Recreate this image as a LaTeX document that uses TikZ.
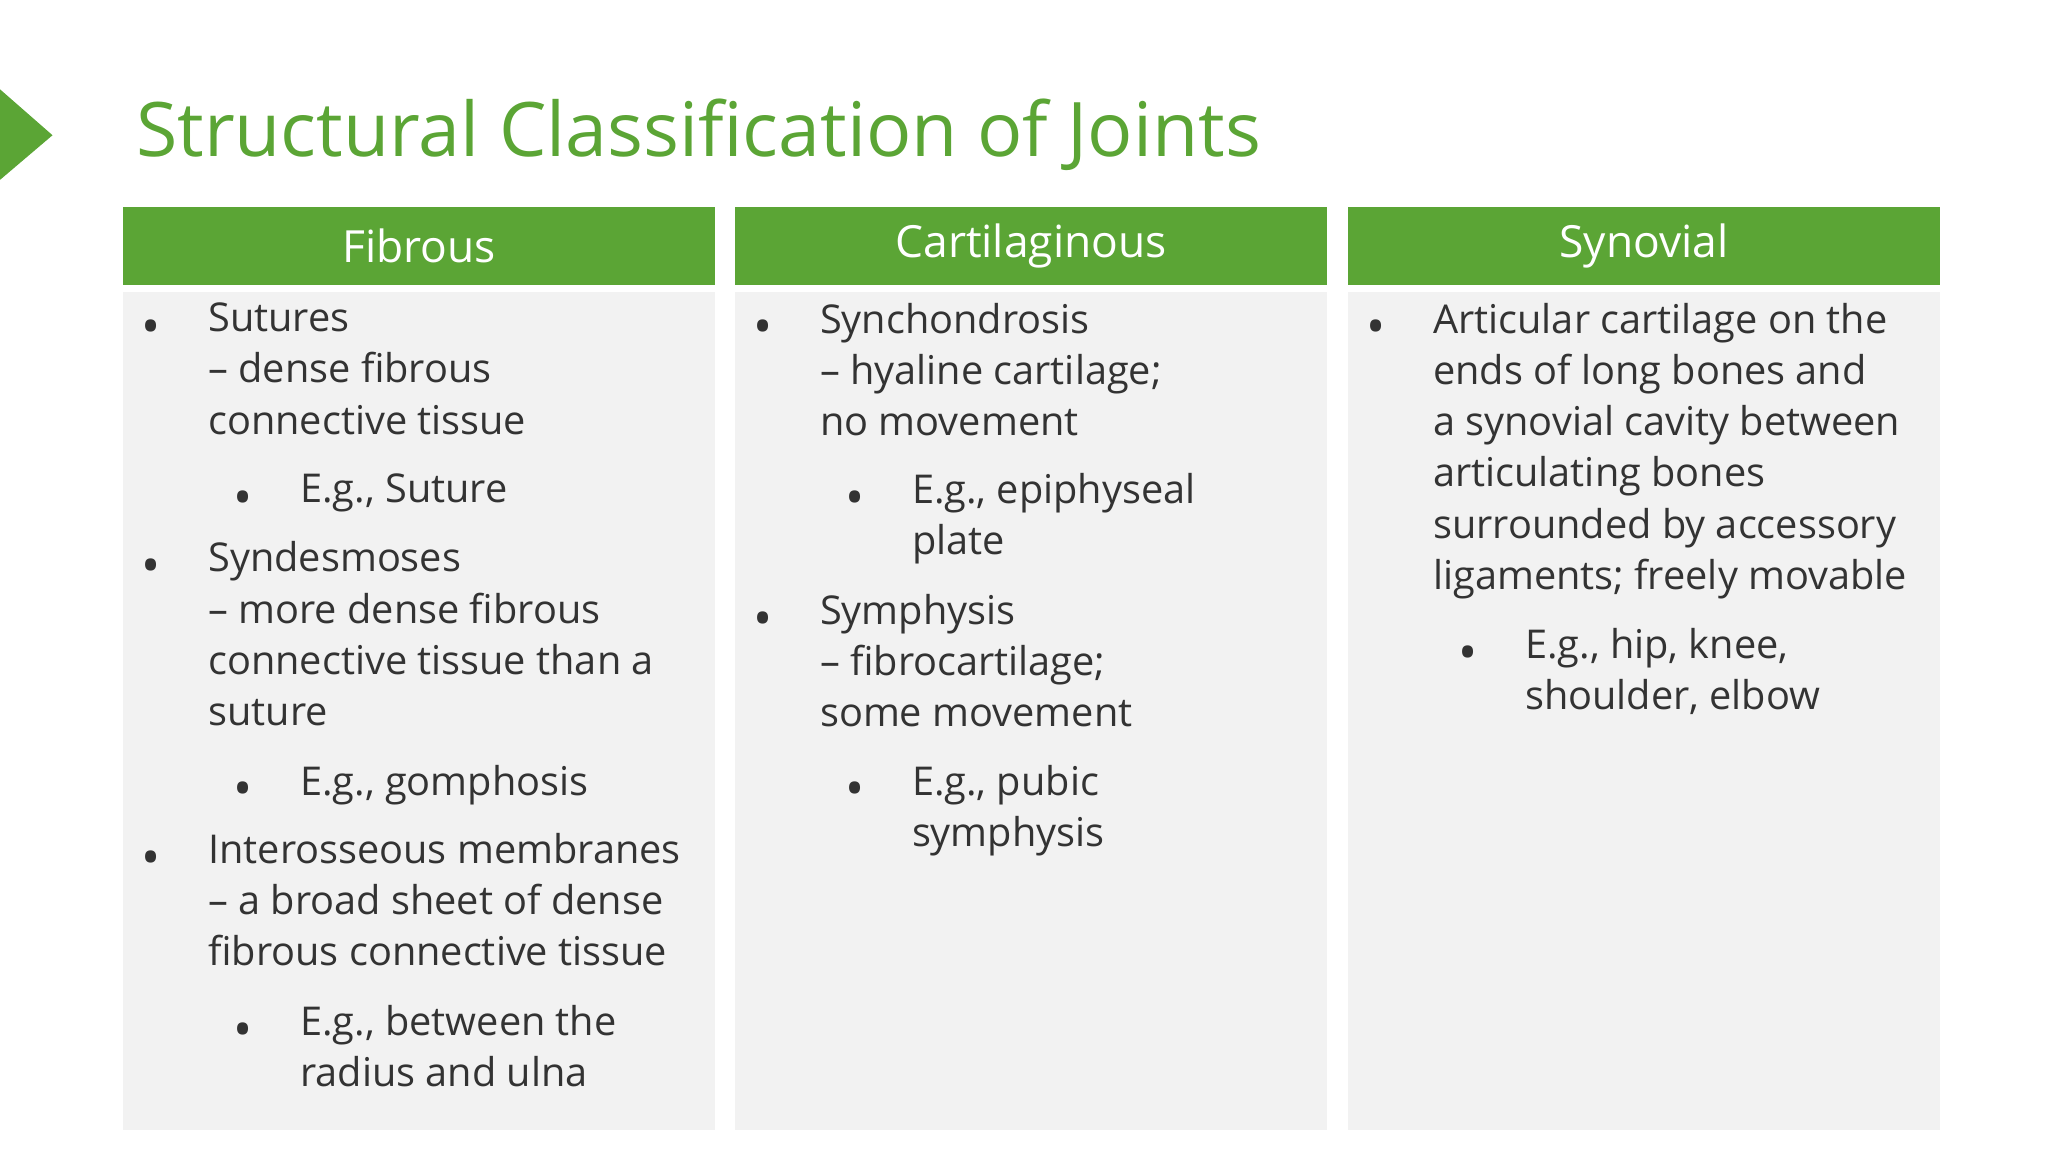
\documentclass[tikz,border=0pt]{standalone}
\usepackage{fontspec}
\setmainfont{Open Sans}
\definecolor{slidegreen}{HTML}{5BA535}
\definecolor{panelgray}{HTML}{F2F2F2}
\newcommand{\bodysize}{\fontsize{8.6}{11.1}\selectfont}
\begin{document}
\begin{tikzpicture}[x=0.01cm,y=-0.01cm,
	header/.style={
		rectangle,
		fill=slidegreen,
		text=white,
		anchor=north west,
		minimum width=4.51cm,
		minimum height=0.59cm,
		inner sep=0pt,
		font=\fontsize{9.6}{12}\selectfont
	},
	panel/.style={
		rectangle,
		fill=panelgray,
		anchor=north west,
		minimum width=4.51cm,
		minimum height=6.38cm,
		inner sep=0pt
	},
	item/.style={
		anchor=north west,
		align=left,
		inner sep=0pt,
		yshift=0.1cm,
		text=black!80,
		font=\bodysize
	},
	dot/.style={
		anchor=north,
		inner sep=0pt,
		yshift=-0.03cm,
		text=black!80,
		font=\fontsize{11}{12}\selectfont
	},
]
\useasboundingbox (0,0) rectangle (1560,877.5);

% Title
\fill[slidegreen] (0,68) -- (40,103) -- (0,137) -- cycle;
\node[anchor=west, inner sep=0pt, text=slidegreen, font=\fontsize{16.3}{20}\selectfont] (title) at (103,103) {Structural Classification of Joints};

% Columns
\foreach \x/\name/\txt in {93/fib/Fibrous, 559/car/Cartilaginous, 1026/syn/Synovial} {
	\node[panel] (\name body) at (\x,222) {};
	\node[header] (\name head) at (\x,157) {\txt};
}

% Fibrous
\node[dot] (fb1) at (115,240) {•};
\node[item] (fi1) at (158,240) {Sutures\\– dense fibrous\\connective tissue};
\node[dot] (fb2) at (185,370) {•};
\node[item] (fi2) at (228,370) {E.g., Suture};
\node[dot] (fb3) at (115,422) {•};
\node[item] (fi3) at (158,422) {Syndesmoses\\– more dense fibrous\\connective tissue than a\\suture};
\node[dot] (fb4) at (185,592) {•};
\node[item] (fi4) at (228,592) {E.g., gomphosis};
\node[dot] (fb5) at (115,644) {•};
\node[item] (fi5) at (158,644) {Interosseous membranes\\– a broad sheet of dense\\fibrous connective tissue};
\node[dot] (fb6) at (185,775) {•};
\node[item] (fi6) at (228,775) {E.g., between the\\radius and ulna};

% Cartilaginous
\node[dot] (cb1) at (581,240) {•};
\node[item] (ci1) at (624,240) {Synchondrosis\\– hyaline cartilage;\\no movement};
\node[dot] (cb2) at (651,370) {•};
\node[item] (ci2) at (694,370) {E.g., epiphyseal\\plate};
\node[dot] (cb3) at (581,462) {•};
\node[item] (ci3) at (624,462) {Symphysis\\– fibrocartilage;\\some movement};
\node[dot] (cb4) at (651,592) {•};
\node[item] (ci4) at (694,592) {E.g., pubic\\symphysis};

% Synovial
\node[dot] (sb1) at (1048,240) {•};
\node[item] (si1) at (1091,240) {Articular cartilage on the\\ends of long bones and\\a synovial cavity between\\articulating bones\\surrounded by accessory\\ligaments; freely movable};
\node[dot] (sb2) at (1118,488) {•};
\node[item] (si2) at (1161,488) {E.g., hip, knee,\\shoulder, elbow};

\end{tikzpicture}
\end{document}
